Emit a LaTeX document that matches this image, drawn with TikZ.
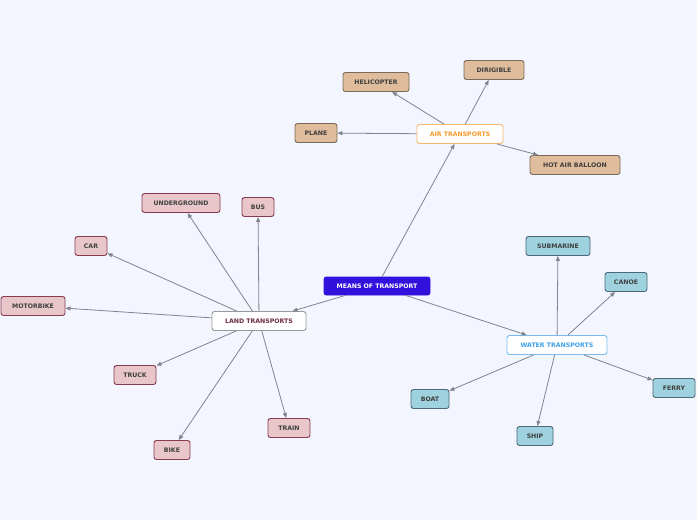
\documentclass[tikz,border=0pt]{standalone}
\usepackage{fontspec}
\setmainfont{DejaVu Sans}
\usetikzlibrary{arrows.meta}
\definecolor{bg}{HTML}{F3F6FE}
\definecolor{mainc}{HTML}{3311DD}
\definecolor{tan}{HTML}{DEBC9C}
\definecolor{tanb}{HTML}{7A6A5A}
\definecolor{pinkf}{HTML}{E8C6CA}
\definecolor{pinkb}{HTML}{8A3A52}
\definecolor{bluef}{HTML}{9ED2DE}
\definecolor{blueb}{HTML}{4A6A7A}
\definecolor{orng}{HTML}{F39A2E}
\definecolor{wblue}{HTML}{3FA0E8}
\definecolor{edge}{HTML}{80848C}
\tikzset{
 base/.style={rounded corners=2.5pt,font=\bfseries\fontsize{6.2}{7}\selectfont,minimum height=19pt,inner sep=0pt,line width=0.9pt},
 air/.style={base,fill=tan,draw=tanb,text=black!75},
 land/.style={base,fill=pinkf,draw=pinkb,text=black!75},
 water/.style={base,fill=bluef,draw=blueb,text=black!75},
 con/.style={draw=edge,line width=0.8pt,-{Triangle[length=5pt,width=4pt]}}
}
\begin{document}
\begin{tikzpicture}[x=1pt,y=-1pt]
\fill[bg] (0,0) rectangle (697,520);
\useasboundingbox (0,0) rectangle (697,520);
\node[base,fill=mainc,draw=mainc,text=white,minimum width=106pt,minimum height=18pt] (m) at (377,286) {MEANS OF TRANSPORT};
\node[base,fill=white,draw=black!40,text=pinkb!80!black,minimum width=94pt] (l) at (259,321) {LAND TRANSPORTS};
\node[base,fill=white,draw=orng!70,text=orng,minimum width=86pt] (a) at (460,134) {AIR TRANSPORTS};
\node[base,fill=white,draw=wblue!70,text=wblue,minimum width=100pt] (w) at (557,345) {WATER TRANSPORTS};
\node[air,minimum width=66pt] (a1) at (376,82) {HELICOPTER};
\node[air,minimum width=60pt] (a2) at (494,70) {DIRIGIBLE};
\node[air,minimum width=42pt] (a3) at (316,133) {PLANE};
\node[air,minimum width=90pt] (a4) at (575,165) {HOT AIR BALLOON};
\node[land,minimum width=78pt] (l1) at (181,203) {UNDERGROUND};
\node[land,minimum width=32pt] (l2) at (258,207) {BUS};
\node[land,minimum width=32pt] (l3) at (91,246) {CAR};
\node[land,minimum width=64pt] (l4) at (33,306) {MOTORBIKE};
\node[land,minimum width=42pt] (l5) at (135,375) {TRUCK};
\node[land,minimum width=36pt] (l6) at (172,450) {BIKE};
\node[land,minimum width=42pt] (l7) at (289,428) {TRAIN};
\node[water,minimum width=64pt] (w1) at (558,246) {SUBMARINE};
\node[water,minimum width=42pt] (w2) at (626,282) {CANOE};
\node[water,minimum width=42pt] (w3) at (674,388) {FERRY};
\node[water,minimum width=36pt] (w4) at (535,436) {SHIP};
\node[water,minimum width=38pt] (w5) at (430,399) {BOAT};
\draw[con] (m) -- (l);
\draw[con] (m) -- (a);
\draw[con] (m) -- (w);
\foreach \c in {a1,a2,a3,a4} \draw[con] (a) -- (\c);
\foreach \c in {l1,l2,l3,l4,l5,l6,l7} \draw[con] (l) -- (\c);
\foreach \c in {w1,w2,w3,w4,w5} \draw[con] (w) -- (\c);
\end{tikzpicture}
\end{document}
